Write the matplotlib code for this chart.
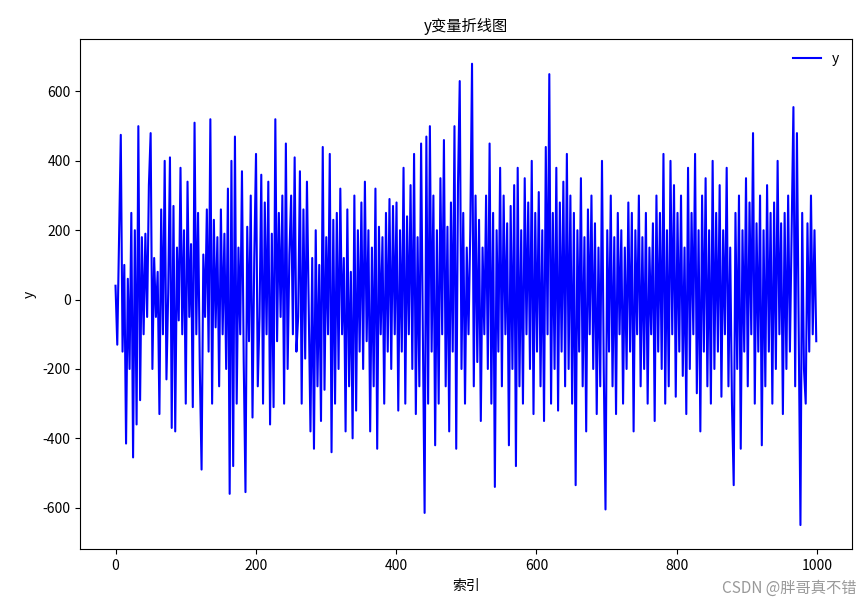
import numpy as np
import matplotlib
matplotlib.use("Agg")
import matplotlib.pyplot as plt

plt.rcParams['font.family'] = ['Noto Sans CJK SC', 'DejaVu Sans']
plt.rcParams['axes.unicode_minus'] = False

y_rows = [
 [40,-130,170,475,-150,100,-415,60,-200,250,-455,200,-360,500,-290,180,-100,190,-50,330],
 [480,-200,120,-50,80,-330,260,-100,400,-230,20,410,-370,270,-380,150,-60,380,-100,200],
 [-300,340,-50,160,-310,510,-100,250,-200,-490,130,-50,260,-150,520,-300,230,-80,180,-250],
 [260,-100,190,-200,320,-560,400,-480,470,-300,150,-100,370,-180,-555,210,-120,300,-340,120],
 [420,-250,-50,360,-300,280,-100,340,-360,190,-310,520,-120,250,-50,300,-300,450,-200,130],
 [300,-100,410,-150,-50,370,-300,260,-170,340,-30,-380,120,-430,200,-250,100,-350,440,-260],
 [180,-100,420,-440,230,-300,250,-200,320,-100,120,-380,260,-250,80,-400,300,-320,200,-150],
 [280,-200,340,-120,200,-380,150,-250,320,-430,210,-100,180,-300,250,-150,290,-200,270,-100],
 [280,-320,200,-150,380,-300,240,-100,330,-200,420,-330,180,-250,450,-100,-615,470,-300,500],
 [-150,300,-420,200,-300,350,-100,460,-250,210,-380,280,-150,500,-430,330,630,-200,250,-300],
 [150,-100,200,680,-250,300,-180,230,-350,150,-100,300,-200,450,-300,250,-540,200,-150,380],
 [-250,300,-100,220,-420,270,-200,330,-480,380,-250,200,-300,350,-100,280,-200,400,-330,250],
 [-150,310,-250,200,-350,440,-100,650,-300,250,-200,380,-320,280,-150,340,-250,420,-200,300],
 [-300,250,-535,200,-150,350,-250,180,-380,260,-100,300,-200,220,-330,150,-250,400,-200,-605],
 [200,-150,300,-250,180,-330,250,-100,200,-300,150,-200,280,-150,250,-380,200,-100,300,-250],
 [180,-200,250,-300,150,-100,220,-350,300,-150,250,-200,420,-300,200,-250,400,-100,330,-280],
 [250,-150,300,-220,150,-330,380,-200,250,-100,420,-270,200,-380,300,-150,350,-250,200,-300],
 [400,-200,250,-150,330,-280,200,-100,380,-250,150,-300,-535,250,-200,300,-430,200,-150,350],
 [-250,280,-100,480,-300,220,-150,300,-420,200,-250,330,-150,250,-300,280,-200,400,-100,220],
 [-330,250,-200,300,-150,200,555,-250,480,-100,-650,250,-200,-300,220,-150,300,-100,200,-120],
]
y = np.array([v for r in y_rows for v in r], dtype=float)
x = np.linspace(0, 999, len(y))

fig = plt.figure(figsize=(8.65, 6.07), dpi=100)
ax = fig.add_axes([0.093, 0.095, 0.892, 0.84])
ax.plot(x, y, color='blue', lw=1.5, label='y')
ax.set_xlim(-50, 1050)
ax.set_ylim(-720, 750)
ax.set_title('y变量折线图', fontsize=11)
ax.set_xlabel('索引', fontsize=10)
ax.set_ylabel('y', fontsize=10)
ax.legend(loc='upper right', frameon=False)
fig.text(0.99, 0.03, 'CSDN @胖哥真不错', ha='right', va='center', color='#999999', fontsize=11)
fig.savefig('out.png')
